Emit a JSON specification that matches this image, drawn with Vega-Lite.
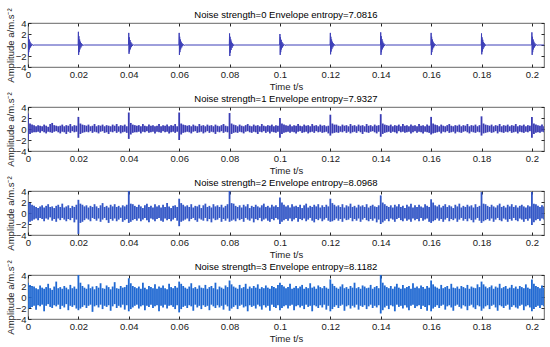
{
"$schema":"https://vega.github.io/schema/vega-lite/v6.json",
"padding":{"left":4,"top":7,"right":4,"bottom":3},
"config":{
"font":"Liberation Sans",
"view":{"stroke":"#404040","strokeWidth":0.8},
"axis":{"domain":false,"grid":false,"labelFont":"Liberation Sans","titleFont":"Liberation Sans","labelFontSize":9.5,"titleFontSize":9.5,"titleFontWeight":"normal","labelColor":"#1a1a1a","titleColor":"#1a1a1a","tickColor":"#262626","tickSize":-3,"labelFlush":false,"labelPadding":5},
"title":{"font":"Liberation Sans","fontSize":9.5,"fontWeight":"normal","color":"#000000","offset":-12,"frame":"group"}
},
"datasets":{
"clean":[
{"t":0,"a":1.9},{"t":0.0001,"a":-2.0},{"t":0.0002,"a":1.5},{"t":0.0003,"a":-1.3},{"t":0.0005,"a":1.0},{"t":0.0006,"a":-0.8},{"t":0.0008,"a":0.6},{"t":0.001,"a":-0.45},{"t":0.0012,"a":0.3},{"t":0.0014,"a":-0.2},{"t":0.0017,"a":0.12},{"t":0.002,"a":-0.06},{"t":0.0024,"a":0},
{"t":0.0199,"a":0},{"t":0.02,"a":2.4},{"t":0.0201,"a":-1.8},{"t":0.0202,"a":1.6},{"t":0.0203,"a":-1.3},{"t":0.0205,"a":1.0},{"t":0.0206,"a":-0.8},{"t":0.0208,"a":0.6},{"t":0.021,"a":-0.45},{"t":0.0212,"a":0.3},{"t":0.0214,"a":-0.2},{"t":0.0217,"a":0.12},{"t":0.022,"a":-0.06},{"t":0.0224,"a":0},
{"t":0.0399,"a":0},{"t":0.04,"a":2.2},{"t":0.0401,"a":-1.6},{"t":0.0402,"a":1.4},{"t":0.0403,"a":-1.2},{"t":0.0405,"a":0.9},{"t":0.0406,"a":-0.8},{"t":0.0408,"a":0.55},{"t":0.041,"a":-0.4},{"t":0.0412,"a":0.28},{"t":0.0414,"a":-0.18},{"t":0.0417,"a":0.1},{"t":0.042,"a":-0.05},{"t":0.0424,"a":0},
{"t":0.0599,"a":0},{"t":0.06,"a":2.2},{"t":0.0601,"a":-1.8},{"t":0.0602,"a":1.5},{"t":0.0603,"a":-1.3},{"t":0.0605,"a":1.0},{"t":0.0606,"a":-0.8},{"t":0.0608,"a":0.6},{"t":0.061,"a":-0.45},{"t":0.0612,"a":0.3},{"t":0.0614,"a":-0.2},{"t":0.0617,"a":0.12},{"t":0.062,"a":-0.06},{"t":0.0624,"a":0},
{"t":0.0799,"a":0},{"t":0.08,"a":2.1},{"t":0.0801,"a":-2.0},{"t":0.0802,"a":1.5},{"t":0.0803,"a":-1.4},{"t":0.0805,"a":1.0},{"t":0.0806,"a":-0.9},{"t":0.0808,"a":0.6},{"t":0.081,"a":-0.5},{"t":0.0812,"a":0.3},{"t":0.0814,"a":-0.2},{"t":0.0817,"a":0.12},{"t":0.082,"a":-0.06},{"t":0.0824,"a":0},
{"t":0.0999,"a":0},{"t":0.1,"a":2.0},{"t":0.1001,"a":-1.8},{"t":0.1002,"a":1.4},{"t":0.1003,"a":-1.3},{"t":0.1005,"a":0.95},{"t":0.1006,"a":-0.8},{"t":0.1008,"a":0.55},{"t":0.101,"a":-0.45},{"t":0.1012,"a":0.28},{"t":0.1014,"a":-0.2},{"t":0.1017,"a":0.1},{"t":0.102,"a":-0.05},{"t":0.1024,"a":0},
{"t":0.1199,"a":0},{"t":0.12,"a":2.2},{"t":0.1201,"a":-1.7},{"t":0.1202,"a":1.5},{"t":0.1203,"a":-1.2},{"t":0.1205,"a":1.0},{"t":0.1206,"a":-0.75},{"t":0.1208,"a":0.6},{"t":0.121,"a":-0.42},{"t":0.1212,"a":0.3},{"t":0.1214,"a":-0.18},{"t":0.1217,"a":0.12},{"t":0.122,"a":-0.05},{"t":0.1224,"a":0},
{"t":0.1399,"a":0},{"t":0.14,"a":2.3},{"t":0.1401,"a":-1.8},{"t":0.1402,"a":1.6},{"t":0.1403,"a":-1.3},{"t":0.1405,"a":1.05},{"t":0.1406,"a":-0.8},{"t":0.1408,"a":0.62},{"t":0.141,"a":-0.45},{"t":0.1412,"a":0.3},{"t":0.1414,"a":-0.2},{"t":0.1417,"a":0.12},{"t":0.142,"a":-0.06},{"t":0.1424,"a":0},
{"t":0.1599,"a":0},{"t":0.16,"a":2.2},{"t":0.1601,"a":-1.8},{"t":0.1602,"a":1.5},{"t":0.1603,"a":-1.3},{"t":0.1605,"a":1.0},{"t":0.1606,"a":-0.8},{"t":0.1608,"a":0.6},{"t":0.161,"a":-0.45},{"t":0.1612,"a":0.3},{"t":0.1614,"a":-0.2},{"t":0.1617,"a":0.12},{"t":0.162,"a":-0.06},{"t":0.1624,"a":0},
{"t":0.1799,"a":0},{"t":0.18,"a":2.1},{"t":0.1801,"a":-1.7},{"t":0.1802,"a":1.4},{"t":0.1803,"a":-1.2},{"t":0.1805,"a":0.95},{"t":0.1806,"a":-0.75},{"t":0.1808,"a":0.55},{"t":0.181,"a":-0.42},{"t":0.1812,"a":0.28},{"t":0.1814,"a":-0.18},{"t":0.1817,"a":0.1},{"t":0.182,"a":-0.05},{"t":0.1824,"a":0},
{"t":0.1999,"a":0},{"t":0.2,"a":2.3},{"t":0.2001,"a":-1.8},{"t":0.2002,"a":1.5},{"t":0.2003,"a":-1.3},{"t":0.2005,"a":1.0},{"t":0.2006,"a":-0.8},{"t":0.2008,"a":0.6},{"t":0.201,"a":-0.45},{"t":0.2012,"a":0.3},{"t":0.2014,"a":-0.2},{"t":0.2017,"a":0.12},{"t":0.202,"a":-0.06},{"t":0.2024,"a":0},{"t":0.2048,"a":0}
],
"noisy":[
{"t":0,"lo1":-2.0,"hi1":2.8,"lo2":-2.2,"hi2":2.0,"lo3":-2.2,"hi3":2.6},
{"t":0.0008,"lo1":-0.9,"hi1":1.0,"lo2":-1.6,"hi2":1.8,"lo3":-2.0,"hi3":2.2},
{"t":0.0016,"lo1":-0.7,"hi1":0.8,"lo2":-1.4,"hi2":1.5,"lo3":-1.8,"hi3":2.0},
{"t":0.0024,"lo1":-0.6,"hi1":0.7,"lo2":-1.2,"hi2":1.3,"lo3":-1.6,"hi3":1.9},
{"t":0.0032,"lo1":-0.6,"hi1":0.5,"lo2":-1.0,"hi2":1.1,"lo3":-2.3,"hi3":1.6},
{"t":0.004,"lo1":-0.5,"hi1":0.7,"lo2":-1.3,"hi2":0.9,"lo3":-1.5,"hi3":1.4},
{"t":0.0048,"lo1":-0.7,"hi1":0.6,"lo2":-0.9,"hi2":1.2,"lo3":-1.7,"hi3":2.1},
{"t":0.0056,"lo1":-0.4,"hi1":0.5,"lo2":-1.1,"hi2":1.4,"lo3":-1.4,"hi3":1.7},
{"t":0.0064,"lo1":-0.6,"hi1":0.8,"lo2":-1.5,"hi2":1.0,"lo3":-2.6,"hi3":1.5},
{"t":0.0072,"lo1":-0.8,"hi1":0.6,"lo2":-1.0,"hi2":1.3,"lo3":-1.6,"hi3":1.8},
{"t":0.008,"lo1":-0.5,"hi1":0.4,"lo2":-1.2,"hi2":1.6,"lo3":-1.3,"hi3":2.4},
{"t":0.0088,"lo1":-0.6,"hi1":0.9,"lo2":-0.8,"hi2":1.1,"lo3":-1.8,"hi3":1.6},
{"t":0.0096,"lo1":-0.7,"hi1":1.1,"lo2":-1.4,"hi2":1.2,"lo3":-2.0,"hi3":1.3},
{"t":0.0104,"lo1":-0.5,"hi1":0.7,"lo2":-1.1,"hi2":0.9,"lo3":-1.5,"hi3":1.9},
{"t":0.0112,"lo1":-0.4,"hi1":0.6,"lo2":-1.6,"hi2":1.3,"lo3":-1.7,"hi3":2.8},
{"t":0.012,"lo1":-0.6,"hi1":0.5,"lo2":-1.0,"hi2":1.5,"lo3":-1.4,"hi3":1.6},
{"t":0.0128,"lo1":-0.8,"hi1":0.6,"lo2":-1.3,"hi2":1.1,"lo3":-2.2,"hi3":1.8},
{"t":0.0136,"lo1":-0.5,"hi1":0.8,"lo2":-0.9,"hi2":1.7,"lo3":-1.6,"hi3":1.5},
{"t":0.0144,"lo1":-0.6,"hi1":0.5,"lo2":-1.2,"hi2":1.0,"lo3":-1.9,"hi3":2.0},
{"t":0.0152,"lo1":-0.9,"hi1":0.7,"lo2":-1.5,"hi2":1.2,"lo3":-1.3,"hi3":1.7},
{"t":0.016,"lo1":-0.5,"hi1":0.6,"lo2":-1.1,"hi2":1.4,"lo3":-2.4,"hi3":1.4},
{"t":0.0168,"lo1":-0.7,"hi1":0.9,"lo2":-1.3,"hi2":0.9,"lo3":-1.6,"hi3":2.2},
{"t":0.0176,"lo1":-0.4,"hi1":0.5,"lo2":-0.9,"hi2":1.3,"lo3":-1.8,"hi3":1.6},
{"t":0.0184,"lo1":-0.6,"hi1":0.7,"lo2":-1.7,"hi2":1.1,"lo3":-1.5,"hi3":1.9},
{"t":0.0192,"lo1":-0.5,"hi1":0.6,"lo2":-1.2,"hi2":1.5,"lo3":-2.1,"hi3":1.5},
{"t":0.02,"lo1":-1.6,"hi1":2.2,"lo2":-3.8,"hi2":2.4,"lo3":-2.4,"hi3":4.0},
{"t":0.0208,"lo1":-0.9,"hi1":1.0,"lo2":-1.8,"hi2":1.7,"lo3":-2.1,"hi3":2.6},
{"t":0.0216,"lo1":-0.7,"hi1":0.8,"lo2":-1.6,"hi2":1.5,"lo3":-1.8,"hi3":2.0},
{"t":0.0224,"lo1":-0.6,"hi1":0.7,"lo2":-1.3,"hi2":1.2,"lo3":-1.5,"hi3":1.7},
{"t":0.0232,"lo1":-0.5,"hi1":0.6,"lo2":-1.0,"hi2":1.4,"lo3":-2.0,"hi3":1.5},
{"t":0.024,"lo1":-0.6,"hi1":0.8,"lo2":-1.2,"hi2":1.0,"lo3":-1.6,"hi3":2.3},
{"t":0.0248,"lo1":-0.4,"hi1":0.5,"lo2":-1.5,"hi2":1.3,"lo3":-1.4,"hi3":1.6},
{"t":0.0256,"lo1":-0.7,"hi1":0.6,"lo2":-0.9,"hi2":1.1,"lo3":-2.7,"hi3":1.9},
{"t":0.0264,"lo1":-0.5,"hi1":0.9,"lo2":-1.1,"hi2":1.6,"lo3":-1.7,"hi3":1.4},
{"t":0.0272,"lo1":-0.6,"hi1":0.5,"lo2":-1.4,"hi2":1.2,"lo3":-1.5,"hi3":2.0},
{"t":0.028,"lo1":-0.8,"hi1":0.7,"lo2":-1.0,"hi2":0.9,"lo3":-1.9,"hi3":1.7},
{"t":0.0288,"lo1":-0.5,"hi1":0.6,"lo2":-1.6,"hi2":1.4,"lo3":-1.4,"hi3":2.5},
{"t":0.0296,"lo1":-0.4,"hi1":0.8,"lo2":-1.2,"hi2":1.8,"lo3":-2.2,"hi3":1.6},
{"t":0.0304,"lo1":-0.7,"hi1":0.5,"lo2":-0.9,"hi2":1.1,"lo3":-1.6,"hi3":1.5},
{"t":0.0312,"lo1":-0.6,"hi1":0.7,"lo2":-1.3,"hi2":1.3,"lo3":-1.8,"hi3":2.1},
{"t":0.032,"lo1":-0.9,"hi1":0.6,"lo2":-1.8,"hi2":1.0,"lo3":-1.5,"hi3":1.8},
{"t":0.0328,"lo1":-0.5,"hi1":0.5,"lo2":-1.1,"hi2":1.5,"lo3":-2.5,"hi3":1.4},
{"t":0.0336,"lo1":-0.6,"hi1":0.8,"lo2":-1.4,"hi2":1.2,"lo3":-1.7,"hi3":1.9},
{"t":0.0344,"lo1":-0.4,"hi1":0.6,"lo2":-1.0,"hi2":1.6,"lo3":-1.3,"hi3":2.7},
{"t":0.0352,"lo1":-0.7,"hi1":0.9,"lo2":-1.5,"hi2":1.1,"lo3":-2.0,"hi3":1.6},
{"t":0.036,"lo1":-0.5,"hi1":0.5,"lo2":-1.2,"hi2":1.3,"lo3":-1.6,"hi3":1.5},
{"t":0.0368,"lo1":-0.8,"hi1":0.7,"lo2":-0.9,"hi2":1.0,"lo3":-1.9,"hi3":2.0},
{"t":0.0376,"lo1":-0.6,"hi1":0.6,"lo2":-1.6,"hi2":1.4,"lo3":-1.4,"hi3":1.7},
{"t":0.0384,"lo1":-0.5,"hi1":0.8,"lo2":-1.3,"hi2":1.2,"lo3":-2.3,"hi3":1.8},
{"t":0.0392,"lo1":-0.7,"hi1":0.5,"lo2":-1.1,"hi2":1.5,"lo3":-1.5,"hi3":2.2},
{"t":0.04,"lo1":-1.8,"hi1":3.0,"lo2":-1.8,"hi2":4.0,"lo3":-2.6,"hi3":3.4},
{"t":0.0408,"lo1":-1.0,"hi1":1.1,"lo2":-1.6,"hi2":1.7,"lo3":-2.2,"hi3":2.5},
{"t":0.0416,"lo1":-0.7,"hi1":0.8,"lo2":-1.3,"hi2":1.6,"lo3":-1.9,"hi3":2.0},
{"t":0.0424,"lo1":-0.6,"hi1":0.7,"lo2":-1.1,"hi2":1.3,"lo3":-1.6,"hi3":1.8},
{"t":0.0432,"lo1":-0.6,"hi1":0.6,"lo2":-1.4,"hi2":1.1,"lo3":-1.4,"hi3":1.6},
{"t":0.044,"lo1":-0.5,"hi1":0.7,"lo2":-1.0,"hi2":1.5,"lo3":-2.1,"hi3":1.9},
{"t":0.0448,"lo1":-0.8,"hi1":0.5,"lo2":-1.5,"hi2":1.2,"lo3":-1.7,"hi3":1.5},
{"t":0.0456,"lo1":-0.5,"hi1":0.9,"lo2":-1.2,"hi2":0.9,"lo3":-1.5,"hi3":2.6},
{"t":0.0464,"lo1":-0.6,"hi1":0.6,"lo2":-0.9,"hi2":1.4,"lo3":-2.4,"hi3":1.7},
{"t":0.0472,"lo1":-0.4,"hi1":0.5,"lo2":-1.3,"hi2":1.7,"lo3":-1.6,"hi3":1.4},
{"t":0.048,"lo1":-0.7,"hi1":0.8,"lo2":-1.7,"hi2":1.1,"lo3":-1.8,"hi3":2.0},
{"t":0.0488,"lo1":-0.6,"hi1":0.6,"lo2":-1.0,"hi2":1.3,"lo3":-1.4,"hi3":1.8},
{"t":0.0496,"lo1":-0.5,"hi1":0.7,"lo2":-1.2,"hi2":1.0,"lo3":-2.0,"hi3":1.6},
{"t":0.0504,"lo1":-0.8,"hi1":0.5,"lo2":-1.5,"hi2":1.6,"lo3":-1.7,"hi3":2.3},
{"t":0.0512,"lo1":-0.5,"hi1":0.6,"lo2":-1.1,"hi2":1.2,"lo3":-1.5,"hi3":1.5},
{"t":0.052,"lo1":-0.6,"hi1":0.9,"lo2":-0.9,"hi2":1.4,"lo3":-2.6,"hi3":1.9},
{"t":0.0528,"lo1":-0.7,"hi1":0.5,"lo2":-1.4,"hi2":1.0,"lo3":-1.6,"hi3":1.7},
{"t":0.0536,"lo1":-0.4,"hi1":0.7,"lo2":-1.6,"hi2":1.5,"lo3":-1.9,"hi3":2.1},
{"t":0.0544,"lo1":-0.6,"hi1":0.6,"lo2":-1.0,"hi2":1.1,"lo3":-1.4,"hi3":1.6},
{"t":0.0552,"lo1":-0.5,"hi1":0.8,"lo2":-1.3,"hi2":1.8,"lo3":-2.1,"hi3":1.4},
{"t":0.056,"lo1":-0.8,"hi1":0.5,"lo2":-1.1,"hi2":1.2,"lo3":-1.6,"hi3":2.4},
{"t":0.0568,"lo1":-0.6,"hi1":0.7,"lo2":-1.5,"hi2":0.9,"lo3":-1.5,"hi3":1.8},
{"t":0.0576,"lo1":-0.5,"hi1":0.6,"lo2":-1.2,"hi2":1.3,"lo3":-1.8,"hi3":1.6},
{"t":0.0584,"lo1":-0.7,"hi1":0.9,"lo2":-0.9,"hi2":1.4,"lo3":-2.2,"hi3":2.0},
{"t":0.0592,"lo1":-0.5,"hi1":0.5,"lo2":-1.4,"hi2":1.1,"lo3":-1.5,"hi3":1.7},
{"t":0.06,"lo1":-2.0,"hi1":3.0,"lo2":-2.4,"hi2":2.6,"lo3":-2.8,"hi3":2.8},
{"t":0.0608,"lo1":-1.0,"hi1":1.0,"lo2":-1.6,"hi2":1.8,"lo3":-2.2,"hi3":2.4},
{"t":0.0616,"lo1":-0.7,"hi1":0.8,"lo2":-1.4,"hi2":1.5,"lo3":-1.8,"hi3":2.0},
{"t":0.0624,"lo1":-0.6,"hi1":0.7,"lo2":-1.2,"hi2":1.2,"lo3":-1.6,"hi3":1.7},
{"t":0.0632,"lo1":-0.5,"hi1":0.6,"lo2":-1.0,"hi2":1.4,"lo3":-2.0,"hi3":1.5},
{"t":0.064,"lo1":-0.6,"hi1":0.7,"lo2":-1.5,"hi2":1.1,"lo3":-1.5,"hi3":1.9},
{"t":0.0648,"lo1":-0.8,"hi1":0.5,"lo2":-1.1,"hi2":1.6,"lo3":-1.7,"hi3":2.5},
{"t":0.0656,"lo1":-0.5,"hi1":0.8,"lo2":-0.9,"hi2":1.0,"lo3":-2.5,"hi3":1.6},
{"t":0.0664,"lo1":-0.4,"hi1":0.6,"lo2":-1.3,"hi2":1.3,"lo3":-1.4,"hi3":1.8},
{"t":0.0672,"lo1":-0.7,"hi1":0.5,"lo2":-1.6,"hi2":1.2,"lo3":-1.9,"hi3":1.5},
{"t":0.068,"lo1":-0.6,"hi1":0.9,"lo2":-1.0,"hi2":1.5,"lo3":-1.6,"hi3":2.1},
{"t":0.0688,"lo1":-0.5,"hi1":0.6,"lo2":-1.2,"hi2":0.9,"lo3":-2.2,"hi3":1.7},
{"t":0.0696,"lo1":-0.8,"hi1":0.7,"lo2":-1.4,"hi2":1.4,"lo3":-1.5,"hi3":1.6},
{"t":0.0704,"lo1":-0.6,"hi1":0.5,"lo2":-0.9,"hi2":1.7,"lo3":-1.8,"hi3":2.2},
{"t":0.0712,"lo1":-0.4,"hi1":0.8,"lo2":-1.5,"hi2":1.1,"lo3":-1.6,"hi3":1.5},
{"t":0.072,"lo1":-0.7,"hi1":0.6,"lo2":-1.1,"hi2":1.3,"lo3":-2.4,"hi3":1.8},
{"t":0.0728,"lo1":-0.5,"hi1":0.7,"lo2":-1.7,"hi2":1.0,"lo3":-1.4,"hi3":2.0},
{"t":0.0736,"lo1":-0.6,"hi1":0.5,"lo2":-1.0,"hi2":1.6,"lo3":-1.7,"hi3":1.6},
{"t":0.0744,"lo1":-0.9,"hi1":0.8,"lo2":-1.3,"hi2":1.2,"lo3":-2.0,"hi3":2.6},
{"t":0.0752,"lo1":-0.5,"hi1":0.6,"lo2":-1.2,"hi2":1.4,"lo3":-1.5,"hi3":1.4},
{"t":0.076,"lo1":-0.6,"hi1":0.5,"lo2":-0.9,"hi2":1.1,"lo3":-1.9,"hi3":1.9},
{"t":0.0768,"lo1":-0.4,"hi1":0.7,"lo2":-1.6,"hi2":1.5,"lo3":-1.6,"hi3":1.7},
{"t":0.0776,"lo1":-0.7,"hi1":0.9,"lo2":-1.1,"hi2":1.0,"lo3":-2.3,"hi3":1.5},
{"t":0.0784,"lo1":-0.5,"hi1":0.6,"lo2":-1.4,"hi2":1.3,"lo3":-1.4,"hi3":2.1},
{"t":0.0792,"lo1":-0.6,"hi1":0.5,"lo2":-1.0,"hi2":1.6,"lo3":-1.7,"hi3":1.8},
{"t":0.08,"lo1":-1.8,"hi1":2.9,"lo2":-1.6,"hi2":4.0,"lo3":-2.5,"hi3":3.0},
{"t":0.0808,"lo1":-0.9,"hi1":1.0,"lo2":-1.4,"hi2":1.8,"lo3":-2.1,"hi3":2.3},
{"t":0.0816,"lo1":-0.7,"hi1":0.8,"lo2":-1.2,"hi2":1.7,"lo3":-1.8,"hi3":1.9},
{"t":0.0824,"lo1":-0.6,"hi1":0.7,"lo2":-1.5,"hi2":1.3,"lo3":-1.5,"hi3":1.7},
{"t":0.0832,"lo1":-0.7,"hi1":0.5,"lo2":-1.0,"hi2":1.1,"lo3":-2.2,"hi3":1.5},
{"t":0.084,"lo1":-0.5,"hi1":0.8,"lo2":-1.3,"hi2":1.4,"lo3":-1.6,"hi3":2.2},
{"t":0.0848,"lo1":-0.6,"hi1":0.6,"lo2":-1.1,"hi2":1.0,"lo3":-1.4,"hi3":1.6},
{"t":0.0856,"lo1":-0.8,"hi1":0.5,"lo2":-1.6,"hi2":1.5,"lo3":-1.9,"hi3":1.8},
{"t":0.0864,"lo1":-0.5,"hi1":0.7,"lo2":-0.9,"hi2":1.2,"lo3":-1.7,"hi3":2.4},
{"t":0.0872,"lo1":-0.4,"hi1":0.9,"lo2":-1.2,"hi2":1.6,"lo3":-2.6,"hi3":1.5},
{"t":0.088,"lo1":-0.6,"hi1":0.6,"lo2":-1.4,"hi2":0.9,"lo3":-1.5,"hi3":1.9},
{"t":0.0888,"lo1":-0.7,"hi1":0.5,"lo2":-1.0,"hi2":1.3,"lo3":-1.8,"hi3":1.6},
{"t":0.0896,"lo1":-0.5,"hi1":0.8,"lo2":-1.7,"hi2":1.1,"lo3":-1.6,"hi3":2.0},
{"t":0.0904,"lo1":-0.6,"hi1":0.6,"lo2":-1.1,"hi2":1.5,"lo3":-2.1,"hi3":1.7},
{"t":0.0912,"lo1":-0.9,"hi1":0.7,"lo2":-1.3,"hi2":1.2,"lo3":-1.4,"hi3":2.3},
{"t":0.092,"lo1":-0.5,"hi1":0.5,"lo2":-0.9,"hi2":1.0,"lo3":-1.7,"hi3":1.5},
{"t":0.0928,"lo1":-0.6,"hi1":0.9,"lo2":-1.5,"hi2":1.4,"lo3":-2.3,"hi3":1.8},
{"t":0.0936,"lo1":-0.4,"hi1":0.6,"lo2":-1.2,"hi2":1.7,"lo3":-1.5,"hi3":1.6},
{"t":0.0944,"lo1":-0.7,"hi1":0.5,"lo2":-1.0,"hi2":1.1,"lo3":-1.9,"hi3":2.1},
{"t":0.0952,"lo1":-0.5,"hi1":0.7,"lo2":-1.4,"hi2":1.3,"lo3":-1.6,"hi3":1.7},
{"t":0.096,"lo1":-0.8,"hi1":0.6,"lo2":-1.6,"hi2":1.0,"lo3":-2.5,"hi3":1.5},
{"t":0.0968,"lo1":-0.5,"hi1":0.8,"lo2":-1.1,"hi2":1.5,"lo3":-1.4,"hi3":2.0},
{"t":0.0976,"lo1":-0.6,"hi1":0.5,"lo2":-1.3,"hi2":1.2,"lo3":-1.8,"hi3":1.8},
{"t":0.0984,"lo1":-0.7,"hi1":0.7,"lo2":-0.9,"hi2":1.4,"lo3":-2.0,"hi3":1.6},
{"t":0.0992,"lo1":-0.5,"hi1":0.6,"lo2":-1.2,"hi2":1.1,"lo3":-1.5,"hi3":2.2},
{"t":0.1,"lo1":-1.6,"hi1":2.0,"lo2":-2.0,"hi2":2.8,"lo3":-2.4,"hi3":2.6},
{"t":0.1008,"lo1":-0.9,"hi1":1.0,"lo2":-1.6,"hi2":1.9,"lo3":-2.0,"hi3":2.2},
{"t":0.1016,"lo1":-0.7,"hi1":0.8,"lo2":-1.3,"hi2":1.5,"lo3":-1.7,"hi3":1.9},
{"t":0.1024,"lo1":-0.6,"hi1":0.7,"lo2":-1.1,"hi2":1.2,"lo3":-1.5,"hi3":1.6},
{"t":0.1032,"lo1":-0.5,"hi1":0.6,"lo2":-1.4,"hi2":1.4,"lo3":-2.1,"hi3":1.8},
{"t":0.104,"lo1":-0.7,"hi1":0.8,"lo2":-1.0,"hi2":1.0,"lo3":-1.6,"hi3":2.4},
{"t":0.1048,"lo1":-0.5,"hi1":0.5,"lo2":-1.5,"hi2":1.6,"lo3":-1.4,"hi3":1.5},
{"t":0.1056,"lo1":-0.6,"hi1":0.7,"lo2":-1.2,"hi2":1.2,"lo3":-2.4,"hi3":1.7},
{"t":0.1064,"lo1":-0.8,"hi1":0.6,"lo2":-0.9,"hi2":1.3,"lo3":-1.7,"hi3":2.0},
{"t":0.1072,"lo1":-0.5,"hi1":0.9,"lo2":-1.6,"hi2":1.1,"lo3":-1.5,"hi3":1.6},
{"t":0.108,"lo1":-0.4,"hi1":0.6,"lo2":-1.1,"hi2":1.5,"lo3":-1.9,"hi3":1.9},
{"t":0.1088,"lo1":-0.7,"hi1":0.5,"lo2":-1.3,"hi2":0.9,"lo3":-1.6,"hi3":2.2},
{"t":0.1096,"lo1":-0.6,"hi1":0.8,"lo2":-1.0,"hi2":1.4,"lo3":-2.2,"hi3":1.5},
{"t":0.1104,"lo1":-0.5,"hi1":0.6,"lo2":-1.5,"hi2":1.7,"lo3":-1.4,"hi3":1.8},
{"t":0.1112,"lo1":-0.8,"hi1":0.7,"lo2":-1.2,"hi2":1.0,"lo3":-1.8,"hi3":1.6},
{"t":0.112,"lo1":-0.6,"hi1":0.5,"lo2":-0.9,"hi2":1.3,"lo3":-1.6,"hi3":2.5},
{"t":0.1128,"lo1":-0.5,"hi1":0.9,"lo2":-1.4,"hi2":1.1,"lo3":-2.6,"hi3":1.7},
{"t":0.1136,"lo1":-0.7,"hi1":0.6,"lo2":-1.7,"hi2":1.5,"lo3":-1.5,"hi3":1.9},
{"t":0.1144,"lo1":-0.4,"hi1":0.7,"lo2":-1.1,"hi2":1.2,"lo3":-1.7,"hi3":1.5},
{"t":0.1152,"lo1":-0.6,"hi1":0.5,"lo2":-1.3,"hi2":1.6,"lo3":-2.0,"hi3":2.1},
{"t":0.116,"lo1":-0.5,"hi1":0.8,"lo2":-1.0,"hi2":1.0,"lo3":-1.5,"hi3":1.8},
{"t":0.1168,"lo1":-0.7,"hi1":0.6,"lo2":-1.5,"hi2":1.4,"lo3":-1.9,"hi3":1.6},
{"t":0.1176,"lo1":-0.6,"hi1":0.7,"lo2":-1.2,"hi2":1.1,"lo3":-1.4,"hi3":2.0},
{"t":0.1184,"lo1":-0.5,"hi1":0.5,"lo2":-0.9,"hi2":1.5,"lo3":-2.3,"hi3":1.7},
{"t":0.1192,"lo1":-0.8,"hi1":0.6,"lo2":-1.4,"hi2":1.2,"lo3":-1.6,"hi3":1.5},
{"t":0.12,"lo1":-1.2,"hi1":2.6,"lo2":-1.6,"hi2":2.6,"lo3":-2.6,"hi3":3.2},
{"t":0.1208,"lo1":-0.8,"hi1":1.0,"lo2":-1.5,"hi2":1.8,"lo3":-2.2,"hi3":2.4},
{"t":0.1216,"lo1":-0.7,"hi1":0.8,"lo2":-1.3,"hi2":1.5,"lo3":-1.8,"hi3":2.0},
{"t":0.1224,"lo1":-0.6,"hi1":0.8,"lo2":-1.0,"hi2":1.2,"lo3":-1.5,"hi3":1.7},
{"t":0.1232,"lo1":-0.7,"hi1":0.6,"lo2":-1.4,"hi2":1.4,"lo3":-2.0,"hi3":1.5},
{"t":0.124,"lo1":-0.5,"hi1":0.5,"lo2":-1.1,"hi2":1.1,"lo3":-1.6,"hi3":1.9},
{"t":0.1248,"lo1":-0.6,"hi1":0.8,"lo2":-1.6,"hi2":1.6,"lo3":-1.4,"hi3":2.3},
{"t":0.1256,"lo1":-0.4,"hi1":0.6,"lo2":-1.0,"hi2":1.0,"lo3":-2.5,"hi3":1.6},
{"t":0.1264,"lo1":-0.7,"hi1":0.7,"lo2":-1.3,"hi2":1.4,"lo3":-1.7,"hi3":1.8},
{"t":0.1272,"lo1":-0.5,"hi1":0.5,"lo2":-1.2,"hi2":1.2,"lo3":-1.5,"hi3":1.5},
{"t":0.128,"lo1":-0.8,"hi1":0.9,"lo2":-0.9,"hi2":1.7,"lo3":-2.1,"hi3":2.0},
{"t":0.1288,"lo1":-0.6,"hi1":0.6,"lo2":-1.5,"hi2":1.1,"lo3":-1.6,"hi3":1.7},
{"t":0.1296,"lo1":-0.5,"hi1":0.7,"lo2":-1.1,"hi2":1.3,"lo3":-1.9,"hi3":2.6},
{"t":0.1304,"lo1":-0.7,"hi1":0.5,"lo2":-1.4,"hi2":1.0,"lo3":-1.4,"hi3":1.6},
{"t":0.1312,"lo1":-0.4,"hi1":0.8,"lo2":-1.0,"hi2":1.5,"lo3":-2.3,"hi3":1.8},
{"t":0.132,"lo1":-0.6,"hi1":0.6,"lo2":-1.6,"hi2":1.2,"lo3":-1.6,"hi3":1.5},
{"t":0.1328,"lo1":-0.9,"hi1":0.7,"lo2":-1.2,"hi2":1.4,"lo3":-1.8,"hi3":2.1},
{"t":0.1336,"lo1":-0.5,"hi1":0.5,"lo2":-0.9,"hi2":1.1,"lo3":-1.5,"hi3":1.9},
{"t":0.1344,"lo1":-0.6,"hi1":0.9,"lo2":-1.3,"hi2":1.6,"lo3":-2.2,"hi3":1.6},
{"t":0.1352,"lo1":-0.7,"hi1":0.6,"lo2":-1.5,"hi2":1.0,"lo3":-1.7,"hi3":1.7},
{"t":0.136,"lo1":-0.5,"hi1":0.7,"lo2":-1.1,"hi2":1.3,"lo3":-1.4,"hi3":2.2},
{"t":0.1368,"lo1":-0.4,"hi1":0.5,"lo2":-1.4,"hi2":1.5,"lo3":-2.0,"hi3":1.5},
{"t":0.1376,"lo1":-0.6,"hi1":0.8,"lo2":-1.0,"hi2":1.2,"lo3":-1.6,"hi3":1.8},
{"t":0.1384,"lo1":-0.8,"hi1":0.6,"lo2":-1.7,"hi2":1.1,"lo3":-1.9,"hi3":2.0},
{"t":0.1392,"lo1":-0.5,"hi1":0.7,"lo2":-1.2,"hi2":1.4,"lo3":-1.5,"hi3":1.6},
{"t":0.14,"lo1":-1.4,"hi1":2.7,"lo2":-2.0,"hi2":3.2,"lo3":-3.0,"hi3":4.0},
{"t":0.1408,"lo1":-0.9,"hi1":1.0,"lo2":-1.7,"hi2":1.9,"lo3":-2.4,"hi3":2.6},
{"t":0.1416,"lo1":-0.7,"hi1":0.8,"lo2":-1.4,"hi2":1.6,"lo3":-1.9,"hi3":2.1},
{"t":0.1424,"lo1":-0.6,"hi1":0.7,"lo2":-1.1,"hi2":1.3,"lo3":-1.6,"hi3":1.8},
{"t":0.1432,"lo1":-0.5,"hi1":0.6,"lo2":-1.5,"hi2":1.1,"lo3":-2.2,"hi3":1.6},
{"t":0.144,"lo1":-0.7,"hi1":0.8,"lo2":-1.0,"hi2":1.4,"lo3":-1.5,"hi3":2.0},
{"t":0.1448,"lo1":-0.5,"hi1":0.5,"lo2":-1.2,"hi2":1.0,"lo3":-1.7,"hi3":1.5},
{"t":0.1456,"lo1":-0.6,"hi1":0.7,"lo2":-1.6,"hi2":1.5,"lo3":-2.6,"hi3":1.9},
{"t":0.1464,"lo1":-0.8,"hi1":0.6,"lo2":-1.1,"hi2":1.2,"lo3":-1.4,"hi3":2.4},
{"t":0.1472,"lo1":-0.4,"hi1":0.8,"lo2":-0.9,"hi2":1.6,"lo3":-1.8,"hi3":1.7},
{"t":0.148,"lo1":-0.6,"hi1":0.5,"lo2":-1.3,"hi2":1.1,"lo3":-1.6,"hi3":1.5},
{"t":0.1488,"lo1":-0.5,"hi1":0.9,"lo2":-1.5,"hi2":1.3,"lo3":-2.1,"hi3":2.2},
{"t":0.1496,"lo1":-0.7,"hi1":0.6,"lo2":-1.0,"hi2":0.9,"lo3":-1.5,"hi3":1.6},
{"t":0.1504,"lo1":-0.6,"hi1":0.7,"lo2":-1.4,"hi2":1.5,"lo3":-1.9,"hi3":1.8},
{"t":0.1512,"lo1":-0.5,"hi1":0.5,"lo2":-1.2,"hi2":1.2,"lo3":-2.4,"hi3":2.0},
{"t":0.152,"lo1":-0.8,"hi1":0.8,"lo2":-1.6,"hi2":1.7,"lo3":-1.6,"hi3":1.5},
{"t":0.1528,"lo1":-0.6,"hi1":0.6,"lo2":-1.0,"hi2":1.0,"lo3":-1.4,"hi3":2.5},
{"t":0.1536,"lo1":-0.4,"hi1":0.7,"lo2":-1.3,"hi2":1.4,"lo3":-2.0,"hi3":1.7},
{"t":0.1544,"lo1":-0.7,"hi1":0.5,"lo2":-1.1,"hi2":1.1,"lo3":-1.7,"hi3":1.9},
{"t":0.1552,"lo1":-0.5,"hi1":0.9,"lo2":-1.5,"hi2":1.5,"lo3":-1.5,"hi3":1.6},
{"t":0.156,"lo1":-0.6,"hi1":0.6,"lo2":-0.9,"hi2":1.2,"lo3":-2.2,"hi3":2.1},
{"t":0.1568,"lo1":-0.8,"hi1":0.7,"lo2":-1.4,"hi2":1.0,"lo3":-1.6,"hi3":1.8},
{"t":0.1576,"lo1":-0.5,"hi1":0.5,"lo2":-1.2,"hi2":1.6,"lo3":-1.8,"hi3":1.5},
{"t":0.1584,"lo1":-0.6,"hi1":0.8,"lo2":-1.0,"hi2":1.3,"lo3":-2.5,"hi3":2.0},
{"t":0.1592,"lo1":-0.7,"hi1":0.6,"lo2":-1.6,"hi2":1.1,"lo3":-1.5,"hi3":1.7},
{"t":0.16,"lo1":-1.0,"hi1":2.2,"lo2":-1.8,"hi2":2.5,"lo3":-2.6,"hi3":3.0},
{"t":0.1608,"lo1":-0.8,"hi1":1.0,"lo2":-1.5,"hi2":1.9,"lo3":-2.1,"hi3":2.3},
{"t":0.1616,"lo1":-0.7,"hi1":0.8,"lo2":-1.3,"hi2":1.4,"lo3":-1.8,"hi3":1.9},
{"t":0.1624,"lo1":-0.6,"hi1":0.7,"lo2":-1.0,"hi2":1.2,"lo3":-1.5,"hi3":1.7},
{"t":0.1632,"lo1":-0.5,"hi1":0.5,"lo2":-1.4,"hi2":1.5,"lo3":-2.0,"hi3":1.5},
{"t":0.164,"lo1":-0.8,"hi1":0.8,"lo2":-1.1,"hi2":1.0,"lo3":-1.6,"hi3":2.2},
{"t":0.1648,"lo1":-0.5,"hi1":0.6,"lo2":-1.6,"hi2":1.3,"lo3":-1.4,"hi3":1.6},
{"t":0.1656,"lo1":-0.6,"hi1":0.5,"lo2":-1.2,"hi2":1.6,"lo3":-2.3,"hi3":1.8},
{"t":0.1664,"lo1":-0.4,"hi1":0.7,"lo2":-0.9,"hi2":1.1,"lo3":-1.7,"hi3":2.0},
{"t":0.1672,"lo1":-0.7,"hi1":0.9,"lo2":-1.5,"hi2":1.4,"lo3":-1.5,"hi3":1.5},
{"t":0.168,"lo1":-0.6,"hi1":0.6,"lo2":-1.1,"hi2":1.2,"lo3":-1.9,"hi3":2.4},
{"t":0.1688,"lo1":-0.5,"hi1":0.5,"lo2":-1.3,"hi2":0.9,"lo3":-2.5,"hi3":1.7},
{"t":0.1696,"lo1":-0.8,"hi1":0.7,"lo2":-1.0,"hi2":1.5,"lo3":-1.6,"hi3":1.6},
{"t":0.1704,"lo1":-0.5,"hi1":0.6,"lo2":-1.6,"hi2":1.2,"lo3":-1.4,"hi3":1.9},
{"t":0.1712,"lo1":-0.6,"hi1":0.8,"lo2":-1.2,"hi2":1.7,"lo3":-1.8,"hi3":1.5},
{"t":0.172,"lo1":-0.7,"hi1":0.5,"lo2":-0.9,"hi2":1.0,"lo3":-2.1,"hi3":2.0},
{"t":0.1728,"lo1":-0.5,"hi1":0.7,"lo2":-1.4,"hi2":1.3,"lo3":-1.5,"hi3":1.8},
{"t":0.1736,"lo1":-0.4,"hi1":0.6,"lo2":-1.1,"hi2":1.1,"lo3":-1.7,"hi3":1.6},
{"t":0.1744,"lo1":-0.6,"hi1":0.9,"lo2":-1.5,"hi2":1.5,"lo3":-2.4,"hi3":2.2},
{"t":0.1752,"lo1":-0.8,"hi1":0.5,"lo2":-1.0,"hi2":1.2,"lo3":-1.6,"hi3":1.5},
{"t":0.176,"lo1":-0.5,"hi1":0.7,"lo2":-1.3,"hi2":1.4,"lo3":-1.4,"hi3":1.9},
{"t":0.1768,"lo1":-0.6,"hi1":0.6,"lo2":-1.7,"hi2":1.0,"lo3":-1.9,"hi3":1.7},
{"t":0.1776,"lo1":-0.7,"hi1":0.8,"lo2":-1.2,"hi2":1.6,"lo3":-2.2,"hi3":1.6},
{"t":0.1784,"lo1":-0.5,"hi1":0.5,"lo2":-0.9,"hi2":1.1,"lo3":-1.5,"hi3":2.3},
{"t":0.1792,"lo1":-0.6,"hi1":0.7,"lo2":-1.4,"hi2":1.3,"lo3":-1.7,"hi3":1.8},
{"t":0.18,"lo1":-1.2,"hi1":2.3,"lo2":-1.8,"hi2":3.8,"lo3":-2.5,"hi3":2.8},
{"t":0.1808,"lo1":-0.8,"hi1":1.0,"lo2":-1.5,"hi2":1.7,"lo3":-2.1,"hi3":2.3},
{"t":0.1816,"lo1":-0.7,"hi1":0.8,"lo2":-1.3,"hi2":1.6,"lo3":-1.7,"hi3":1.9},
{"t":0.1824,"lo1":-0.6,"hi1":0.7,"lo2":-1.1,"hi2":1.3,"lo3":-1.5,"hi3":1.6},
{"t":0.1832,"lo1":-0.5,"hi1":0.6,"lo2":-1.4,"hi2":1.1,"lo3":-2.2,"hi3":1.8},
{"t":0.184,"lo1":-0.7,"hi1":0.8,"lo2":-1.0,"hi2":1.5,"lo3":-1.6,"hi3":2.1},
{"t":0.1848,"lo1":-0.6,"hi1":0.5,"lo2":-1.6,"hi2":1.2,"lo3":-1.4,"hi3":1.5},
{"t":0.1856,"lo1":-0.4,"hi1":0.7,"lo2":-1.2,"hi2":1.0,"lo3":-1.9,"hi3":1.9},
{"t":0.1864,"lo1":-0.8,"hi1":0.6,"lo2":-0.9,"hi2":1.4,"lo3":-2.5,"hi3":1.7},
{"t":0.1872,"lo1":-0.5,"hi1":0.9,"lo2":-1.3,"hi2":1.7,"lo3":-1.5,"hi3":2.4},
{"t":0.188,"lo1":-0.6,"hi1":0.5,"lo2":-1.5,"hi2":1.1,"lo3":-1.7,"hi3":1.6},
{"t":0.1888,"lo1":-0.7,"hi1":0.7,"lo2":-1.0,"hi2":1.3,"lo3":-2.0,"hi3":1.8},
{"t":0.1896,"lo1":-0.5,"hi1":0.6,"lo2":-1.2,"hi2":1.0,"lo3":-1.6,"hi3":2.0},
{"t":0.1904,"lo1":-0.6,"hi1":0.8,"lo2":-1.6,"hi2":1.5,"lo3":-1.4,"hi3":1.5},
{"t":0.1912,"lo1":-0.4,"hi1":0.5,"lo2":-1.1,"hi2":1.2,"lo3":-2.3,"hi3":1.7},
{"t":0.192,"lo1":-0.7,"hi1":0.7,"lo2":-1.4,"hi2":1.6,"lo3":-1.8,"hi3":2.2},
{"t":0.1928,"lo1":-0.6,"hi1":0.6,"lo2":-0.9,"hi2":1.1,"lo3":-1.5,"hi3":1.6},
{"t":0.1936,"lo1":-0.5,"hi1":0.9,"lo2":-1.3,"hi2":1.4,"lo3":-1.9,"hi3":1.9},
{"t":0.1944,"lo1":-0.8,"hi1":0.5,"lo2":-1.5,"hi2":1.0,"lo3":-2.1,"hi3":1.5},
{"t":0.1952,"lo1":-0.5,"hi1":0.7,"lo2":-1.0,"hi2":1.3,"lo3":-1.6,"hi3":2.0},
{"t":0.196,"lo1":-0.6,"hi1":0.6,"lo2":-1.2,"hi2":1.5,"lo3":-1.4,"hi3":1.8},
{"t":0.1968,"lo1":-0.7,"hi1":0.8,"lo2":-1.6,"hi2":1.2,"lo3":-2.4,"hi3":1.6},
{"t":0.1976,"lo1":-0.5,"hi1":0.5,"lo2":-1.1,"hi2":1.0,"lo3":-1.7,"hi3":2.3},
{"t":0.1984,"lo1":-0.6,"hi1":0.7,"lo2":-1.4,"hi2":1.4,"lo3":-1.5,"hi3":1.7},
{"t":0.1992,"lo1":-0.4,"hi1":0.6,"lo2":-1.0,"hi2":1.2,"lo3":-1.9,"hi3":1.5},
{"t":0.2,"lo1":-1.6,"hi1":2.2,"lo2":-2.2,"hi2":3.8,"lo3":-2.6,"hi3":3.2},
{"t":0.2008,"lo1":-0.9,"hi1":1.0,"lo2":-1.7,"hi2":1.7,"lo3":-2.2,"hi3":2.4},
{"t":0.2016,"lo1":-0.7,"hi1":0.8,"lo2":-1.3,"hi2":1.6,"lo3":-1.8,"hi3":2.0},
{"t":0.2024,"lo1":-0.6,"hi1":0.7,"lo2":-1.1,"hi2":1.3,"lo3":-1.6,"hi3":1.8},
{"t":0.2032,"lo1":-0.7,"hi1":0.6,"lo2":-1.4,"hi2":1.1,"lo3":-2.0,"hi3":1.6},
{"t":0.204,"lo1":-0.5,"hi1":0.8,"lo2":-1.0,"hi2":1.4,"lo3":-1.5,"hi3":2.1},
{"t":0.2048,"lo1":-0.6,"hi1":0.5,"lo2":-1.2,"hi2":1.2,"lo3":-1.7,"hi3":1.7}
]
},
"bounds":"flush",
"spacing":40,
"vconcat":[
{"width":516,"height":44,"title":"Noise strength=0 Envelope entropy=7.0816","data":{"name":"clean"},
"layer":[
{"mark":{"type":"line","color":"#3d3fb8","strokeWidth":1,"clip":true},
"encoding":{"x":{"field":"t","type":"quantitative","scale":{"domain":[0,0.2048],"nice":false,"zero":false},"axis":{"values":[0,0.02,0.04,0.06,0.08,0.1,0.12,0.14,0.16,0.18,0.2],"format":"~g","title":"Time t/s","titlePadding":3}},
"y":{"field":"a","type":"quantitative","scale":{"domain":[-4,4],"nice":false},"axis":{"values":[-4,-2,0,2,4],"title":"Amplitude a/m.s⁻²","titlePadding":0,"labelPadding":5}}}},
{"mark":{"type":"point","opacity":0},
"encoding":{"x":{"field":"t","type":"quantitative","axis":{"orient":"top","labels":false,"title":null,"values":[0,0.02,0.04,0.06,0.08,0.1,0.12,0.14,0.16,0.18,0.2]}},
"y":{"field":"a","type":"quantitative","axis":{"orient":"right","labels":false,"title":null,"values":[-4,-2,0,2,4]}}}}
],
"resolve":{"axis":{"x":"independent","y":"independent"}}},
{"width":516,"height":44,"title":"Noise strength=1 Envelope entropy=7.9327","data":{"name":"noisy"},
"layer":[
{"mark":{"type":"rule","color":"#3a3cb4","strokeWidth":1.8,"clip":true},
"encoding":{"x":{"field":"t","type":"quantitative","scale":{"domain":[0,0.2048],"nice":false,"zero":false},"axis":{"values":[0,0.02,0.04,0.06,0.08,0.1,0.12,0.14,0.16,0.18,0.2],"format":"~g","title":"Time t/s","titlePadding":3}},
"y":{"field":"lo1","type":"quantitative","scale":{"domain":[-4,4],"nice":false},"axis":{"values":[-4,-2,0,2,4],"title":"Amplitude a/m.s⁻²","titlePadding":0,"labelPadding":5}},
"y2":{"field":"hi1"}}},
{"mark":{"type":"point","opacity":0},
"encoding":{"x":{"field":"t","type":"quantitative","axis":{"orient":"top","labels":false,"title":null,"values":[0,0.02,0.04,0.06,0.08,0.1,0.12,0.14,0.16,0.18,0.2]}},
"y":{"field":"lo1","type":"quantitative","axis":{"orient":"right","labels":false,"title":null,"values":[-4,-2,0,2,4]}}}}
],
"resolve":{"axis":{"x":"independent","y":"independent"}}},
{"width":516,"height":44,"title":"Noise strength=2 Envelope entropy=8.0968","data":{"name":"noisy"},
"layer":[
{"mark":{"type":"rule","color":"#3256c6","strokeWidth":1.8,"clip":true},
"encoding":{"x":{"field":"t","type":"quantitative","scale":{"domain":[0,0.2048],"nice":false,"zero":false},"axis":{"values":[0,0.02,0.04,0.06,0.08,0.1,0.12,0.14,0.16,0.18,0.2],"format":"~g","title":"Time t/s","titlePadding":3}},
"y":{"field":"lo2","type":"quantitative","scale":{"domain":[-4,4],"nice":false},"axis":{"values":[-4,-2,0,2,4],"title":"Amplitude a/m.s⁻²","titlePadding":0,"labelPadding":5}},
"y2":{"field":"hi2"}}},
{"mark":{"type":"point","opacity":0},
"encoding":{"x":{"field":"t","type":"quantitative","axis":{"orient":"top","labels":false,"title":null,"values":[0,0.02,0.04,0.06,0.08,0.1,0.12,0.14,0.16,0.18,0.2]}},
"y":{"field":"lo2","type":"quantitative","axis":{"orient":"right","labels":false,"title":null,"values":[-4,-2,0,2,4]}}}}
],
"resolve":{"axis":{"x":"independent","y":"independent"}}},
{"width":516,"height":44,"title":"Noise strength=3 Envelope entropy=8.1182","data":{"name":"noisy"},
"layer":[
{"mark":{"type":"rule","color":"#1f68d2","strokeWidth":1.8,"clip":true},
"encoding":{"x":{"field":"t","type":"quantitative","scale":{"domain":[0,0.2048],"nice":false,"zero":false},"axis":{"values":[0,0.02,0.04,0.06,0.08,0.1,0.12,0.14,0.16,0.18,0.2],"format":"~g","title":"Time t/s","titlePadding":3}},
"y":{"field":"lo3","type":"quantitative","scale":{"domain":[-4,4],"nice":false},"axis":{"values":[-4,-2,0,2,4],"title":"Amplitude a/m.s⁻²","titlePadding":0,"labelPadding":5}},
"y2":{"field":"hi3"}}},
{"mark":{"type":"point","opacity":0},
"encoding":{"x":{"field":"t","type":"quantitative","axis":{"orient":"top","labels":false,"title":null,"values":[0,0.02,0.04,0.06,0.08,0.1,0.12,0.14,0.16,0.18,0.2]}},
"y":{"field":"lo3","type":"quantitative","axis":{"orient":"right","labels":false,"title":null,"values":[-4,-2,0,2,4]}}}}
],
"resolve":{"axis":{"x":"independent","y":"independent"}}}
]
}
